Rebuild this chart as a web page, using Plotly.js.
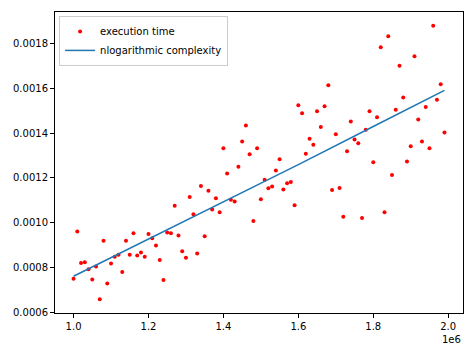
<!DOCTYPE html>
<html>
<head>
<meta charset="utf-8">
<script src="https://cdn.plot.ly/plotly-3.0.1.min.js"></script>
<style>html,body{margin:0;padding:0;background:#fff;}#chart{width:474px;height:355px;}</style>
</head>
<body>
<div id="chart"></div>
<script>
// Input sizes n (1e6 .. 1.99e6, step 1e4)
const sizes = [
  1000000,1010000,1020000,1030000,1040000,1050000,1060000,1070000,1080000,1090000,
  1100000,1110000,1120000,1130000,1140000,1150000,1160000,1170000,1180000,1190000,
  1200000,1210000,1220000,1230000,1240000,1250000,1260000,1270000,1280000,1290000,
  1300000,1310000,1320000,1330000,1340000,1350000,1360000,1370000,1380000,1390000,
  1400000,1410000,1420000,1430000,1440000,1450000,1460000,1470000,1480000,1490000,
  1500000,1510000,1520000,1530000,1540000,1550000,1560000,1570000,1580000,1590000,
  1600000,1610000,1620000,1630000,1640000,1650000,1660000,1670000,1680000,1690000,
  1700000,1710000,1720000,1730000,1740000,1750000,1760000,1770000,1780000,1790000,
  1800000,1810000,1820000,1830000,1840000,1850000,1860000,1870000,1880000,1890000,
  1900000,1910000,1920000,1930000,1940000,1950000,1960000,1970000,1980000,1990000
];
// Measured execution times (s)
const execTimes = [
  0.000750,0.000961,0.000820,0.000823,0.000792,0.000747,0.000805,0.000658,0.000919,0.000729,
  0.000818,0.000848,0.000857,0.000780,0.000919,0.000857,0.000953,0.000854,0.000867,0.000848,
  0.000950,0.000931,0.000898,0.000834,0.000744,0.000956,0.000953,0.001075,0.000943,0.000873,
  0.000843,0.001115,0.001038,0.000863,0.001164,0.000940,0.001143,0.001059,0.001109,0.001046,
  0.001332,0.001219,0.001102,0.001094,0.001250,0.001362,0.001434,0.001305,0.001008,0.001332,
  0.001105,0.001192,0.001154,0.001161,0.001233,0.001283,0.001148,0.001176,0.001182,0.001078,
  0.001524,0.001488,0.001308,0.001375,0.001348,0.001497,0.001427,0.001520,0.001613,0.001146,
  0.001394,0.001155,0.001026,0.001319,0.001451,0.001371,0.001354,0.001021,0.001415,0.001497,
  0.001270,0.001470,0.001783,0.001046,0.001832,0.001213,0.001504,0.001700,0.001559,0.001273,
  0.001341,0.001743,0.001460,0.001362,0.001516,0.001332,0.001879,0.001549,0.001618,0.001402
];
// n log n fit curve, read at a few sizes
const fitSizes = [1000000,1200000,1400000,1600000,1800000,1990000];
const fitTimes = [0.000761,0.000926,0.001092,0.001259,0.001429,0.001590];

const xTickVals = [1000000,1200000,1400000,1600000,1800000,2000000];
const xTickText = ['1.0','1.2','1.4','1.6','1.8','2.0'];
const yTickVals = [0.0006,0.0008,0.0010,0.0012,0.0014,0.0016,0.0018];
const yTickText = ['0.0006','0.0008','0.0010','0.0012','0.0014','0.0016','0.0018'];

const font = {family:'DejaVu Sans, sans-serif', size:10, color:'#000'};

const traces = [
  {x:sizes, y:execTimes, type:'scatter', mode:'markers', name:'execution time',
   marker:{color:'#ff0000', size:4, line:{width:0}}},
  {x:fitSizes, y:fitTimes, type:'scatter', mode:'lines', name:'nlogarithmic complexity',
   line:{color:'#1f77b4', width:1.5}}
];

const layout = {
  width:474, height:355,
  margin:{l:55, r:11, t:12, b:42, pad:0},
  paper_bgcolor:'#fff', plot_bgcolor:'#fff',
  font:font,
  showlegend:true,
  legend:{x:0.01, y:0.987, xanchor:'left', yanchor:'top',
    bgcolor:'rgba(255,255,255,0.8)', bordercolor:'#cccccc', borderwidth:1,
    font:{family:'DejaVu Sans, sans-serif', size:10, color:'#000'},
    tracegroupgap:0, itemwidth:30},
  xaxis:{range:[950500,2039500], tickvals:xTickVals, ticktext:xTickText,
    showgrid:false, zeroline:false, showline:true, mirror:true, linecolor:'#000', linewidth:1,
    ticks:'outside', ticklen:4, tickwidth:1, tickcolor:'#000', tickfont:font},
  yaxis:{range:[0.000597,0.001940], tickvals:yTickVals, ticktext:yTickText,
    showgrid:false, zeroline:false, showline:true, mirror:true, linecolor:'#000', linewidth:1,
    ticks:'outside', ticklen:4, tickwidth:1, tickcolor:'#000', tickfont:font},
  annotations:[{xref:'paper', yref:'paper', x:1, y:-0.087, xanchor:'right', yanchor:'middle',
    text:'1e6', showarrow:false, font:font}]
};

Plotly.newPlot('chart', traces, layout, {displayModeBar:false, staticPlot:true});
</script>
</body>
</html>
